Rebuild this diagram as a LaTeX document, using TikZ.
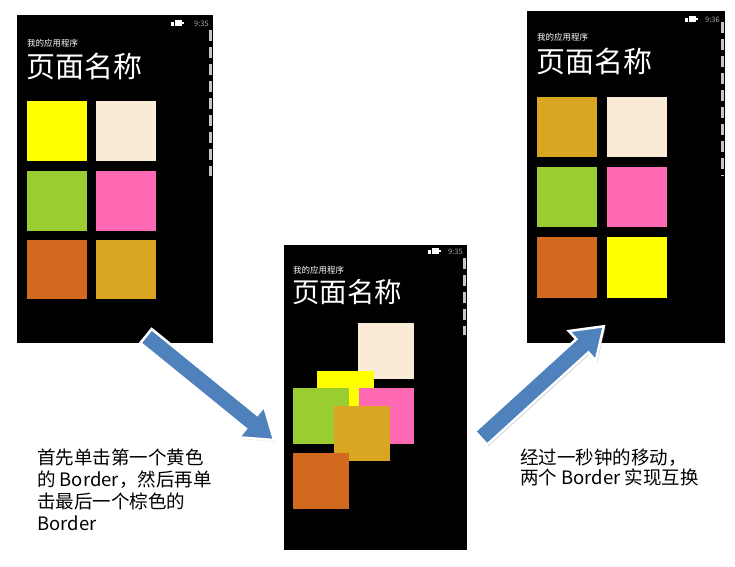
\documentclass[tikz,border=0pt]{standalone}
\usepackage{fontspec}
\setmainfont{Noto Sans CJK SC}
\usetikzlibrary{shadows}
\definecolor{arrowblue}{HTML}{4F81BD}
\definecolor{tyellow}{HTML}{FFFF00}
\definecolor{tbisque}{HTML}{FAEBD7}
\definecolor{tgreen}{HTML}{9ACD32}
\definecolor{tpink}{HTML}{FF69B4}
\definecolor{tchoc}{HTML}{D2691E}
\definecolor{tgold}{HTML}{DAA520}
\tikzset{
  phone/.style={fill=black},
  small/.style={text=white, inner sep=0, font=\fontsize{8.5}{10}\selectfont, anchor=base west},
  titletext/.style={text=white, inner sep=0, anchor=base west},
  clock/.style={text=gray!70, inner sep=0, font=\fontsize{7.5}{9}\selectfont, anchor=base west},
  side/.style={draw=gray!45, line width=3pt, dash pattern=on 11pt off 6pt},
  bigarrow/.style={fill=arrowblue, draw=white, line width=2.5pt, line join=miter,
     drop shadow={shadow xshift=1.5pt, shadow yshift=-1.5pt, fill=gray!60, opacity=0.6}},
  caption/.style={inner sep=0, anchor=base west, font=\fontsize{18.5}{22}\selectfont}
}
\newcommand{\battery}[2]{%
  \fill[white] (#1,#2+2) rectangle ++(3,4);
  \fill[white] (#1+4,#2) rectangle ++(7,6);
  \fill[white] (#1+11,#2+2) rectangle ++(1.5,2);}
\begin{document}
\begin{tikzpicture}[x=1pt,y=-1pt]
\useasboundingbox (0,0) rectangle (735,566);
\fill[white] (0,0) rectangle (735,566);

% ---------- phone 1 ----------
\fill[phone] (17,15) rectangle (213,343);
\battery{171}{20}
\node[clock] (p1clock) at (194,26) {9:35};
\draw[side] (210,30) -- (210,176);
\node[small] (p1app) at (27,46) {我的应用程序};
\node[titletext, font=\fontsize{29}{32}\selectfont] (p1title) at (26,77) {页面名称};
\fill[tyellow] (27,101) rectangle (87,161);
\fill[tbisque] (96,101) rectangle (156,161);
\fill[tgreen] (27,171) rectangle (87,231);
\fill[tpink] (96,171) rectangle (156,231);
\fill[tchoc] (27,240) rectangle (87,299);
\fill[tgold] (96,240) rectangle (156,299);

% ---------- phone 2 ----------
\fill[phone] (284,245) rectangle (467,550);
\battery{428}{248}
\node[clock] (p2clock) at (448,254) {9:35};
\draw[side] (464,258) -- (464,335);
\node[small] (p2app) at (293,273) {我的应用程序};
\node[titletext, font=\fontsize{27.5}{30}\selectfont] (p2title) at (292,302) {页面名称};
\fill[tbisque] (358,323) rectangle (414,379);
\fill[tyellow] (317,371) rectangle (374,427);
\fill[tgreen] (293,388) rectangle (349,444);
\fill[tpink] (359,388) rectangle (414,444);
\fill[tgold] (334,406) rectangle (390,461);
\fill[tchoc] (293,453) rectangle (349,509);

% ---------- phone 3 ----------
\fill[phone] (527,11) rectangle (725,343);
\battery{685}{16}
\node[clock] (p3clock) at (705,22) {9:36};
\draw[side] (722,22) -- (722,176);
\node[small] (p3app) at (537,40) {我的应用程序};
\node[titletext, font=\fontsize{29}{32}\selectfont] (p3title) at (536,72) {页面名称};
\fill[tgold] (537,97) rectangle (597,157);
\fill[tbisque] (607,97) rectangle (667,157);
\fill[tgreen] (537,167) rectangle (597,227);
\fill[tpink] (607,167) rectangle (667,227);
\fill[tchoc] (537,237) rectangle (597,298);
\fill[tyellow] (607,237) rectangle (667,298);

% ---------- arrows ----------
\coordinate (a1) at (146,336);
\coordinate (a2) at (481,438);
\begin{scope}[shift={(a1)}, rotate=-39.1]
  \draw[bigarrow] (0,-9) -- (136,-9) -- (136,-20) -- (165,0) -- (136,20) -- (136,9) -- (0,9) -- cycle;
\end{scope}
\begin{scope}[shift={(a2)}, rotate=42.3]
  \draw[bigarrow] (0,-9) -- (137,-9) -- (137,-20) -- (166,0) -- (137,20) -- (137,9) -- (0,9) -- cycle;
\end{scope}

% ---------- captions ----------
\node[caption] (c1a) at (37,464) {首先单击第一个黄色};
\node[caption] (c1b) at (37,486) {的 Border，然后再单};
\node[caption] (c1c) at (37,508) {击最后一个棕色的};
\node[caption] (c1d) at (37,530) {Border};
\node[caption] (c2a) at (520,464) {经过一秒钟的移动，};
\node[caption] (c2b) at (520,484) {两个 Border 实现互换};
\end{tikzpicture}
\end{document}
